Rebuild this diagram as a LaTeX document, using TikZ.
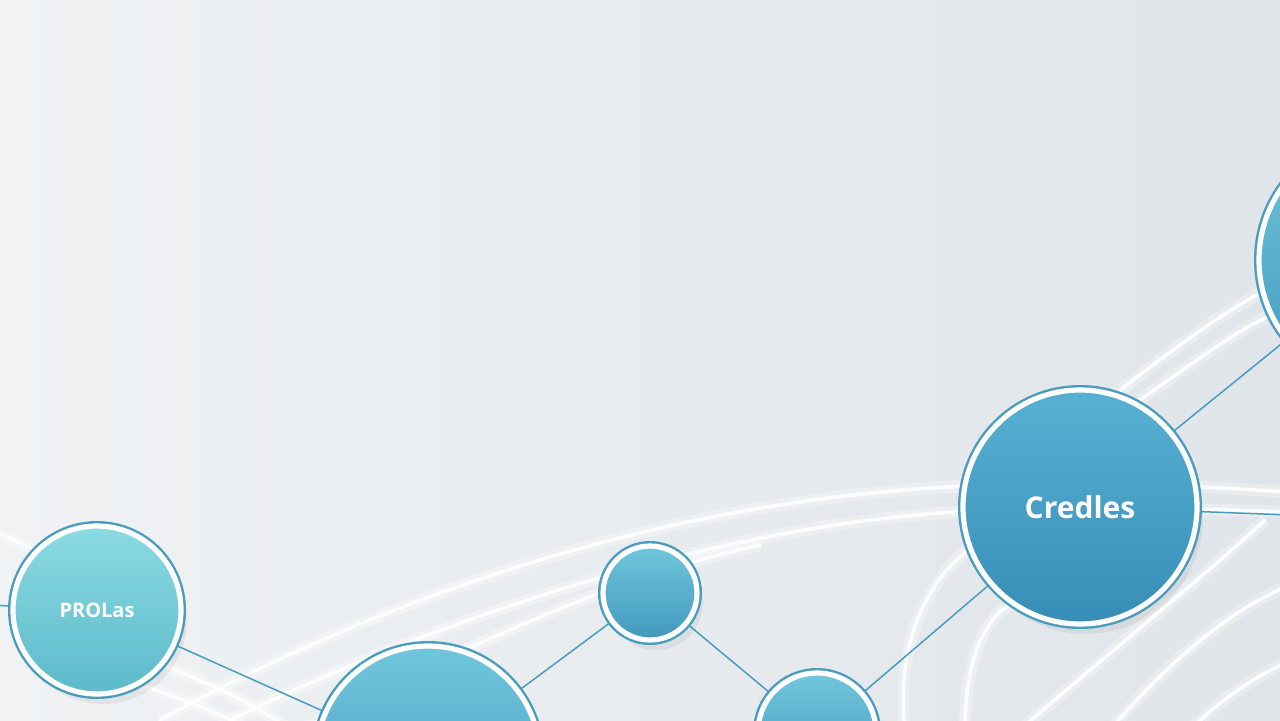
\documentclass[tikz,border=0pt]{standalone}
\usepackage{fontspec}
\setmainfont{Open Sans}
\usetikzlibrary{shadows,backgrounds}

\tikzset{every picture/.style={line width=0.75pt}}
\tikzset{
  bubble/.style={circle, inner sep=0pt, text=white,
    drop shadow={opacity=0.12, shadow xshift=3pt, shadow yshift=-5pt},
    preaction={draw={rgb, 255:red, 72; green, 156; blue, 190 }, line width=5pt},
    draw=white, line width=2.6pt, shading angle=45,
    top color={rgb, 255:red, 112; green, 198; blue, 220 },
    bottom color={rgb, 255:red, 66; green, 152; blue, 188 }},
  tealbubble/.style={bubble,
    top color={rgb, 255:red, 140; green, 218; blue, 226 },
    bottom color={rgb, 255:red, 92; green, 186; blue, 202 }},
  deepbubble/.style={bubble,
    top color={rgb, 255:red, 88; green, 176; blue, 210 },
    bottom color={rgb, 255:red, 54; green, 142; blue, 184 }},
  link/.style={draw={rgb, 255:red, 72; green, 156; blue, 190 }, line width=0.75pt},
  glow/.style={draw=white, line width=1.8pt, draw opacity=0.85, line cap=round,
    preaction={draw=white, line width=6pt, draw opacity=0.3}},
}

\begin{document}
\begin{tikzpicture}[x=0.5pt,y=0.5pt,yscale=-1,xscale=1]
\useasboundingbox (0,0) rectangle (1280,720);
\clip (0,0) rectangle (1280,720);

%Flowchart: Connector
\node [tealbubble, minimum size=84pt] (prolas) at (97,610) {\fontsize{10}{12}\selectfont\bfseries PROLas};
%Flowchart: Connector
\node [bubble, minimum size=112pt] (lower) at (428,758) {};
%Flowchart: Connector
\node [bubble, minimum size=47pt] (small) at (650,593) {};
%Flowchart: Connector
\node [bubble, minimum size=59pt] (bottom) at (817,732) {};
%Flowchart: Connector
\node [deepbubble, minimum size=117pt] (credles) at (1080,507) {\fontsize{15}{18}\selectfont\bfseries Credles};
%Flowchart: Connector
\node [bubble, minimum size=126pt] (corner) at (1385,260) {};

\coordinate (leftend) at (-10,605);
\coordinate (rightend) at (1290,515);

\begin{scope}[on background layer]
% Background
\fill [shading angle=-60, left color={rgb, 255:red, 240; green, 242; blue, 244 }, right color={rgb, 255:red, 224; green, 229; blue, 233 }] (0,0) rectangle (1280,720);

%Curve Lines
\draw [glow] (160,720) .. controls (450,560) and (750,490) .. (1000,485) .. controls (1150,482) and (1220,488) .. (1290,492) ;
\draw [glow] (230,720) .. controls (500,590) and (780,515) .. (1000,510) .. controls (1150,507) and (1230,510) .. (1290,512) ;
\draw [glow] (300,730) .. controls (480,640) and (620,575) .. (760,545) ;
\draw [glow] (1100,405) .. controls (1160,360) and (1210,320) .. (1262,292) ;
\draw [glow] (1140,400) .. controls (1190,365) and (1230,335) .. (1265,318) ;
\draw [glow] (905,730) .. controls (895,640) and (930,575) .. (975,545) ;
\draw [glow] (965,730) .. controls (965,650) and (990,610) .. (1020,600) ;
\draw [glow] (1020,730) .. controls (1100,660) and (1200,580) .. (1265,520) ;
\draw [glow] (1110,730) .. controls (1170,660) and (1230,610) .. (1290,585) ;
\draw [glow] (1190,730) .. controls (1220,700) and (1250,680) .. (1290,660) ;
\draw [glow] (-10,530) .. controls (30,545) and (60,565) .. (85,585) ;
\draw [glow] (130,680) .. controls (180,700) and (215,710) .. (250,730) ;
\draw [glow] (150,660) .. controls (200,680) and (250,700) .. (290,730) ;

%Straight Lines
\draw [link] (leftend) -- (prolas) ;
\draw [link] (prolas) -- (lower) ;
\draw [link] (lower) -- (small) ;
\draw [link] (small) -- (bottom) ;
\draw [link] (bottom) -- (credles) ;
\draw [link] (credles) -- (corner) ;
\draw [link] (credles) -- (rightend) ;
\end{scope}

\end{tikzpicture}
\end{document}
